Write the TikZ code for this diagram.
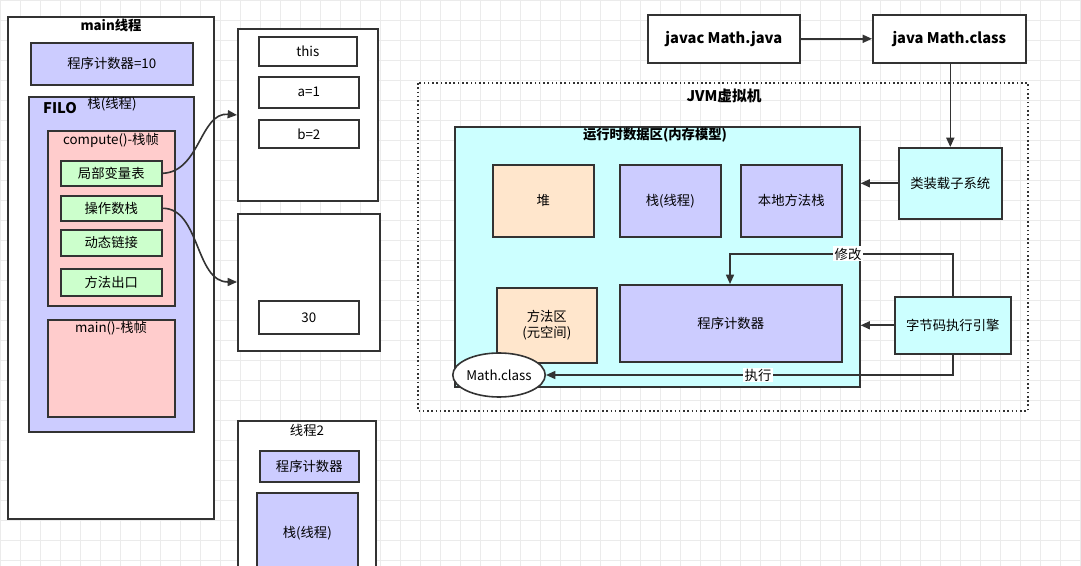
\documentclass[tikz,border=0pt]{standalone}
\usepackage{fontspec}
\setmainfont{Noto Sans CJK SC}
\usetikzlibrary{arrows.meta,shapes.geometric}
\definecolor{pur}{HTML}{CCCCFF}
\definecolor{pnk}{HTML}{FFCCCC}
\definecolor{grn}{HTML}{CCFFCC}
\definecolor{cyn}{HTML}{CCFFFF}
\definecolor{org}{HTML}{FFE6CC}
\begin{document}
\begin{tikzpicture}[x=0.75pt,y=-0.75pt,
 bx/.style={draw=black!80,line width=1.2pt,inner sep=0pt,font=\fontsize{10}{12}\selectfont},
 ar/.style={draw=black!80,line width=1.2pt,-{Triangle[length=7pt,width=6pt]}},
 lb/.style={font=\fontsize{10}{12}\selectfont,inner sep=1pt},
 hd/.style={font=\bfseries\fontsize{10}{12}\selectfont,inner sep=1pt}]
\useasboundingbox (0,0) rectangle (1081,566);
\fill[white] (0,0) rectangle (1081,566);
\foreach \i in {0,20,...,1080} \draw[black!8] (\i,0) -- (\i,566);
\foreach \i in {0,20,...,560} \draw[black!8] (0,\i) -- (1081,\i);
% left
\node[bx,fill=white,minimum width=206*0.75pt,minimum height=502*0.75pt,anchor=north west] (mt) at (7,16) {};
\node[hd] (mtl) at (111,25) {main线程};
\node[bx,fill=pur,minimum width=162*0.75pt,minimum height=42*0.75pt,anchor=north west] (pc) at (30,42) {程序计数器=10};
\node[bx,fill=pur,minimum width=165*0.75pt,minimum height=335*0.75pt,anchor=north west] (st) at (28,96) {};
\node[font=\bfseries\fontsize{11}{13}\selectfont] (filo) at (60,108) {FILO};
\node[lb] (stl) at (112,104) {栈(线程)};
\node[bx,fill=pnk,minimum width=127*0.75pt,minimum height=175*0.75pt,anchor=north west] (cf) at (47,130) {};
\node[lb] (cfl) at (111,140) {compute()-栈帧};
\node[bx,fill=grn,minimum width=101*0.75pt,minimum height=25*0.75pt,anchor=north west] (g1) at (60,160) {局部变量表};
\node[bx,fill=grn,minimum width=101*0.75pt,minimum height=25*0.75pt,anchor=north west] (g2) at (60,195) {操作数栈};
\node[bx,fill=grn,minimum width=101*0.75pt,minimum height=26*0.75pt,anchor=north west] (g3) at (60,229) {动态链接};
\node[bx,fill=grn,minimum width=101*0.75pt,minimum height=27*0.75pt,anchor=north west] (g4) at (60,268) {方法出口};
\node[bx,fill=pnk,minimum width=127*0.75pt,minimum height=97*0.75pt,anchor=north west] (mf) at (47,319) {};
\node[lb] (mfl) at (111,328) {main()-栈帧};
% middle
\node[bx,fill=white,minimum width=140*0.75pt,minimum height=172*0.75pt,anchor=north west] (lv) at (237,28) {};
\node[bx,fill=white,minimum width=98*0.75pt,minimum height=29*0.75pt,anchor=north west] (th) at (258,36) {this};
\node[bx,fill=white,minimum width=100*0.75pt,minimum height=31*0.75pt,anchor=north west] (a1) at (258,76) {a=1};
\node[bx,fill=white,minimum width=100*0.75pt,minimum height=28*0.75pt,anchor=north west] (b2) at (258,119) {b=2};
\node[bx,fill=white,minimum width=142*0.75pt,minimum height=137*0.75pt,anchor=north west] (os) at (237,213) {};
\node[bx,fill=white,minimum width=100*0.75pt,minimum height=33*0.75pt,anchor=north west] (v30) at (258,300) {30};
\draw[draw=black!80,line width=1.2pt,fill=white] (238,570) -- (238,421) -- (376,421) -- (376,570);
\node[lb] (t2l) at (307,430) {线程2};
\node[bx,fill=pur,minimum width=99*0.75pt,minimum height=31*0.75pt,anchor=north west] (t2pc) at (259,450) {程序计数器};
\node[bx,fill=pur,minimum width=101*0.75pt,minimum height=80*0.75pt,anchor=north west] (t2st) at (256,492) {栈(线程)};
\draw[ar] (g1.east) .. controls (200,172) and (200,112) .. (lv.west|-0,115);
\draw[ar] (g2.east) .. controls (200,208) and (195,282) .. (os.west|-0,282);
% right
\node[bx,fill=white,font=\bfseries\fontsize{11}{13}\selectfont,minimum width=152*0.75pt,minimum height=48*0.75pt,anchor=north west] (jc) at (647,14) {javac Math.java};
\node[bx,fill=white,font=\bfseries\fontsize{11}{13}\selectfont,minimum width=153*0.75pt,minimum height=48*0.75pt,anchor=north west] (jv) at (872,14) {java Math.class};
\draw[ar] (jc) -- (jv);
\draw[black!80,line width=1.2pt,dotted] (418,83) rectangle (1028,411);
\node[font=\bfseries\fontsize{11}{13}\selectfont] (jvm) at (724,96) {JVM虚拟机};
\node[bx,fill=cyn,minimum width=405*0.75pt,minimum height=260*0.75pt,anchor=north west] (rt) at (454,126) {};
\node[hd] (rtl) at (655,135) {运行时数据区(内存模型)};
\node[bx,fill=org,minimum width=101*0.75pt,minimum height=72*0.75pt,anchor=north west] (heap) at (492,164) {堆};
\node[bx,fill=pur,minimum width=101*0.75pt,minimum height=72*0.75pt,anchor=north west] (stk) at (619,164) {栈(线程)};
\node[bx,fill=pur,minimum width=101*0.75pt,minimum height=72*0.75pt,anchor=north west] (nat) at (740,164) {本地方法栈};
\node[bx,fill=org,minimum width=100*0.75pt,minimum height=75*0.75pt,anchor=north west,align=center] (ma) at (496,287) {方法区\\(元空间)};
\node[bx,fill=pur,minimum width=222*0.75pt,minimum height=77*0.75pt,anchor=north west] (pcr) at (619,284) {程序计数器};
\node[bx,fill=cyn,minimum width=103*0.75pt,minimum height=71*0.75pt,anchor=north west] (cl) at (898,147) {类装载子系统};
\node[bx,fill=cyn,minimum width=116*0.75pt,minimum height=57*0.75pt,anchor=north west] (ee) at (894,296) {字节码执行引擎};
\node[bx,fill=white,ellipse,minimum width=92*0.75pt,minimum height=44*0.75pt] (mc) at (499,375) {Math.class};
\draw[ar] (jv.south-|cl.north) -- (cl.north);
\draw[ar] (cl.west) -- (rt.east|-cl.west);
\draw[ar] (ee.west) -- (rt.east|-ee.west);
\draw[ar] (ee.north-|953,0) |- (730,254) -- (pcr.north-|730,0);
\node[lb,fill=white] (xg) at (848,254) {修改};
\draw[ar] (ee.south-|953,0) |- (mc.east);
\node[lb,fill=white] (zx) at (758,375) {执行};
\end{tikzpicture}
\end{document}
